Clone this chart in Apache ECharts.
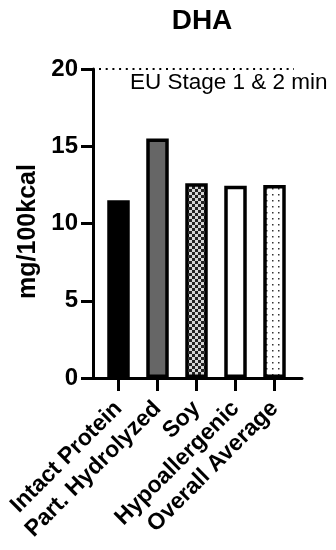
<!DOCTYPE html>
<html>
<head>
<meta charset="utf-8">
<script src="https://cdn.jsdelivr.net/npm/echarts@6/dist/echarts.min.js"></script>
<style>
html,body{margin:0;padding:0;background:#fff;}
#chart{width:336px;height:550px;}
</style>
</head>
<body>
<div id="chart"></div>
<script>
var title = 'DHA';
var categories = ['Intact Protein', 'Part. Hydrolyzed', 'Soy', 'Hypoallergenic', 'Overall Average'];
var values = [11.5, 15.5, 12.6, 12.45, 12.5];
var yTicks = [0, 5, 10, 15, 20];
var refValue = 20;
var refLabel = 'EU Stage 1 & 2 min';
var yName = 'mg/100kcal';

function makeChecker() {
  var c = document.createElement('canvas');
  c.width = 6; c.height = 6;
  var g = c.getContext('2d');
  g.fillStyle = '#d4d4d4'; g.fillRect(0, 0, 6, 6);
  g.fillStyle = '#222'; g.fillRect(0, 0, 3, 3); g.fillRect(3, 3, 3, 3);
  return c;
}
function makeDots() {
  var c = document.createElement('canvas');
  c.width = 6; c.height = 6;
  var g = c.getContext('2d');
  g.fillStyle = '#fff'; g.fillRect(0, 0, 6, 6);
  g.fillStyle = '#333'; g.fillRect(2, 2, 1.5, 1.5);
  return c;
}
var fills = ['#000', '#666', {image: makeChecker(), repeat: 'repeat'}, '#fff', {image: makeDots(), repeat: 'repeat'}];

var chart = echarts.init(document.getElementById('chart'), null, {renderer: 'canvas'});
var font = 'Liberation Sans, Arial, sans-serif';
chart.setOption({
  animation: false,
  title: {text: title, left: 197, top: 2, textAlign: 'center',
    textStyle: {fontFamily: font, fontWeight: 'bold', fontSize: 28, color: '#000'}},
  grid: [
    {left: 99, width: 195, top: 69, height: 309},
    {left: 93, width: 209, top: 69, height: 309}
  ],
  xAxis: [
    {type: 'category', gridIndex: 0, data: categories,
      axisLine: {show: false},
      axisTick: {show: true, alignWithLabel: true, length: 13, lineStyle: {color: '#000', width: 3}},
      axisLabel: {rotate: 45, margin: 27, interval: 0, color: '#000', fontFamily: font, fontWeight: 'bold', fontSize: 23}},
    {type: 'value', gridIndex: 1, min: 0, max: 1,
      axisLine: {show: true, lineStyle: {color: '#000', width: 3}},
      axisTick: {show: false}, axisLabel: {show: false}, splitLine: {show: false}}
  ],
  yAxis: [
    {type: 'value', gridIndex: 0, min: 0, max: 20, interval: 5, offset: 6,
      name: yName, nameLocation: 'middle', nameGap: 49, nameRotate: 90,
      nameTextStyle: {fontFamily: font, fontWeight: 'bold', fontSize: 25, color: '#000', padding: [0, 16, 0, 0]},
      axisLine: {show: true, lineStyle: {color: '#000', width: 3}},
      axisTick: {show: true, length: 12, lineStyle: {color: '#000', width: 3}},
      axisLabel: {margin: 15, color: '#000', fontFamily: font, fontWeight: 'bold', fontSize: 24},
      splitLine: {show: false}},
    {type: 'value', gridIndex: 1, min: 0, max: 20, show: false}
  ],
  series: [{
    type: 'bar', xAxisIndex: 0, yAxisIndex: 0,
    barWidth: 22.5,
    data: values.map(function (v, i) {
      return {value: v, itemStyle: {color: fills[i], borderColor: '#000', borderWidth: 3.5}};
    }),
    markLine: {
      silent: true, symbol: 'none',
      lineStyle: {color: '#000', type: [2, 4.7], width: 2},
      label: {show: false},
      data: [{yAxis: refValue}]
    }
  }],
  graphic: [{
    type: 'text', left: 130, top: 71,
    style: {text: refLabel, fill: '#000', font: '22.5px ' + font}
  }]
});
</script>
</body>
</html>
